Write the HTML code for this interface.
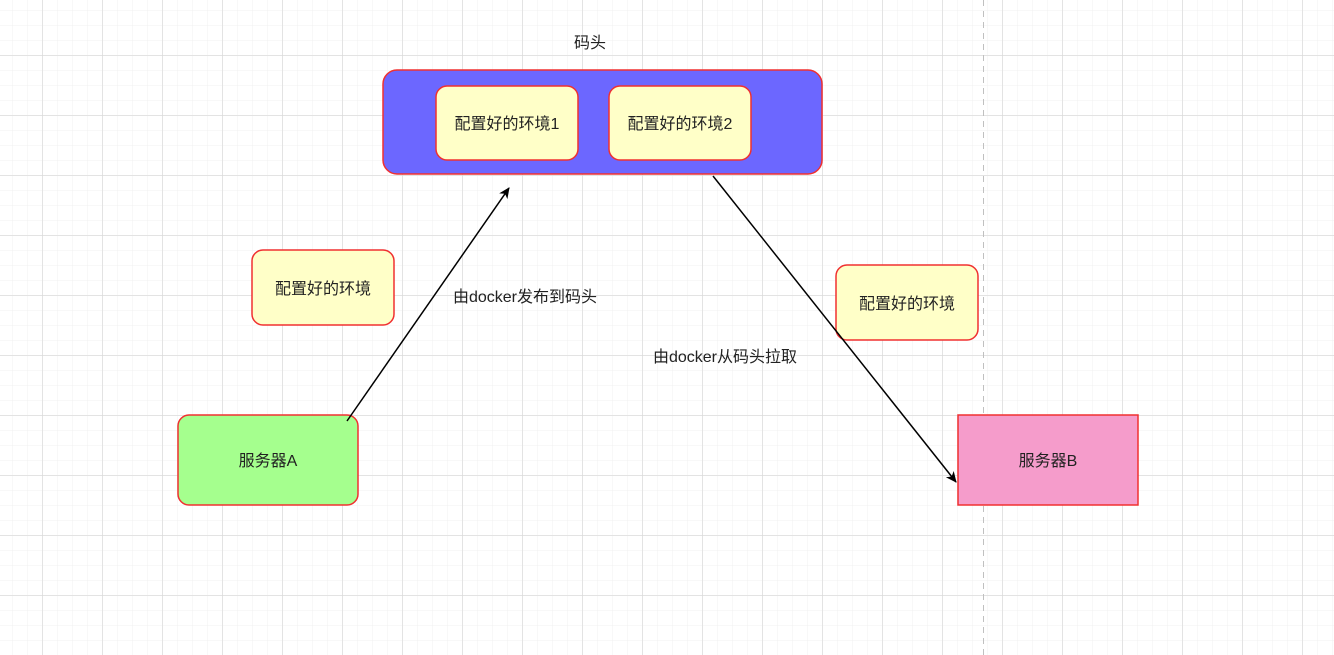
<!DOCTYPE html>
<html><head><meta charset="utf-8"><style>
html,body{margin:0;padding:0;background:#fff;}
svg{display:block;}
text{font-family:"Liberation Sans","Noto Sans CJK SC",sans-serif;font-size:16px;fill:#222;}
</style></head><body>
<svg width="1334" height="655" viewBox="0 0 1334 655" xmlns="http://www.w3.org/2000/svg">
<defs>
<pattern id="minor" x="12" y="10" width="15" height="15" patternUnits="userSpaceOnUse">
<path d="M0 0H15M0 0V15" stroke="#f0f0f0" stroke-width="1" fill="none"/>
</pattern>
<pattern id="major" x="42.5" y="55.5" width="60" height="60" patternUnits="userSpaceOnUse">
<path d="M0 0H60M0 0V60" stroke="#d6d6d6" stroke-width="1" fill="none"/>
</pattern>
<marker id="ar" markerWidth="12" markerHeight="12" refX="10" refY="5" orient="auto" markerUnits="userSpaceOnUse">
<path d="M0 0L11 5L0 10L3 5Z" fill="#000"/>
</marker>
</defs>
<rect width="1334" height="655" fill="url(#minor)"/>
<rect width="1334" height="655" fill="url(#major)"/>
<line x1="983.5" y1="0" x2="983.5" y2="655" stroke="#c0c0c0" stroke-dasharray="6,5"/>

<text x="590" y="48" text-anchor="middle">码头</text>
<rect x="383" y="70" width="439" height="104" rx="14" fill="#6c67ff" stroke="#f03030" stroke-width="1.5"/>
<rect x="436" y="86" width="142" height="74" rx="11" fill="#ffffc8" stroke="#f03030" stroke-width="1.5"/>
<text x="507" y="129" text-anchor="middle">配置好的环境1</text>
<rect x="609" y="86" width="142" height="74" rx="11" fill="#ffffc8" stroke="#f03030" stroke-width="1.5"/>
<text x="680" y="129" text-anchor="middle">配置好的环境2</text>

<rect x="252" y="250" width="142" height="75" rx="11" fill="#ffffc8" stroke="#f03030" stroke-width="1.5"/>
<text x="323" y="294" text-anchor="middle">配置好的环境</text>
<rect x="836" y="265" width="142" height="75" rx="11" fill="#ffffc8" stroke="#f03030" stroke-width="1.5"/>
<text x="907" y="309" text-anchor="middle">配置好的环境</text>

<rect x="178" y="415" width="180" height="90" rx="11" fill="#a5ff8e" stroke="#f03030" stroke-width="1.5"/>
<text x="268" y="466" text-anchor="middle">服务器A</text>
<rect x="958" y="415" width="180" height="90" fill="#f59ccb" stroke="#f03030" stroke-width="1.5"/>
<text x="1048" y="466" text-anchor="middle">服务器B</text>

<line x1="347" y1="421" x2="509" y2="188" stroke="#000" stroke-width="1.5" marker-end="url(#ar)"/>
<line x1="713" y1="176" x2="956" y2="482" stroke="#000" stroke-width="1.5" marker-end="url(#ar)"/>
<text x="525" y="302" text-anchor="middle">由docker发布到码头</text>
<text x="725" y="362" text-anchor="middle">由docker从码头拉取</text>
</svg>
</body></html>
